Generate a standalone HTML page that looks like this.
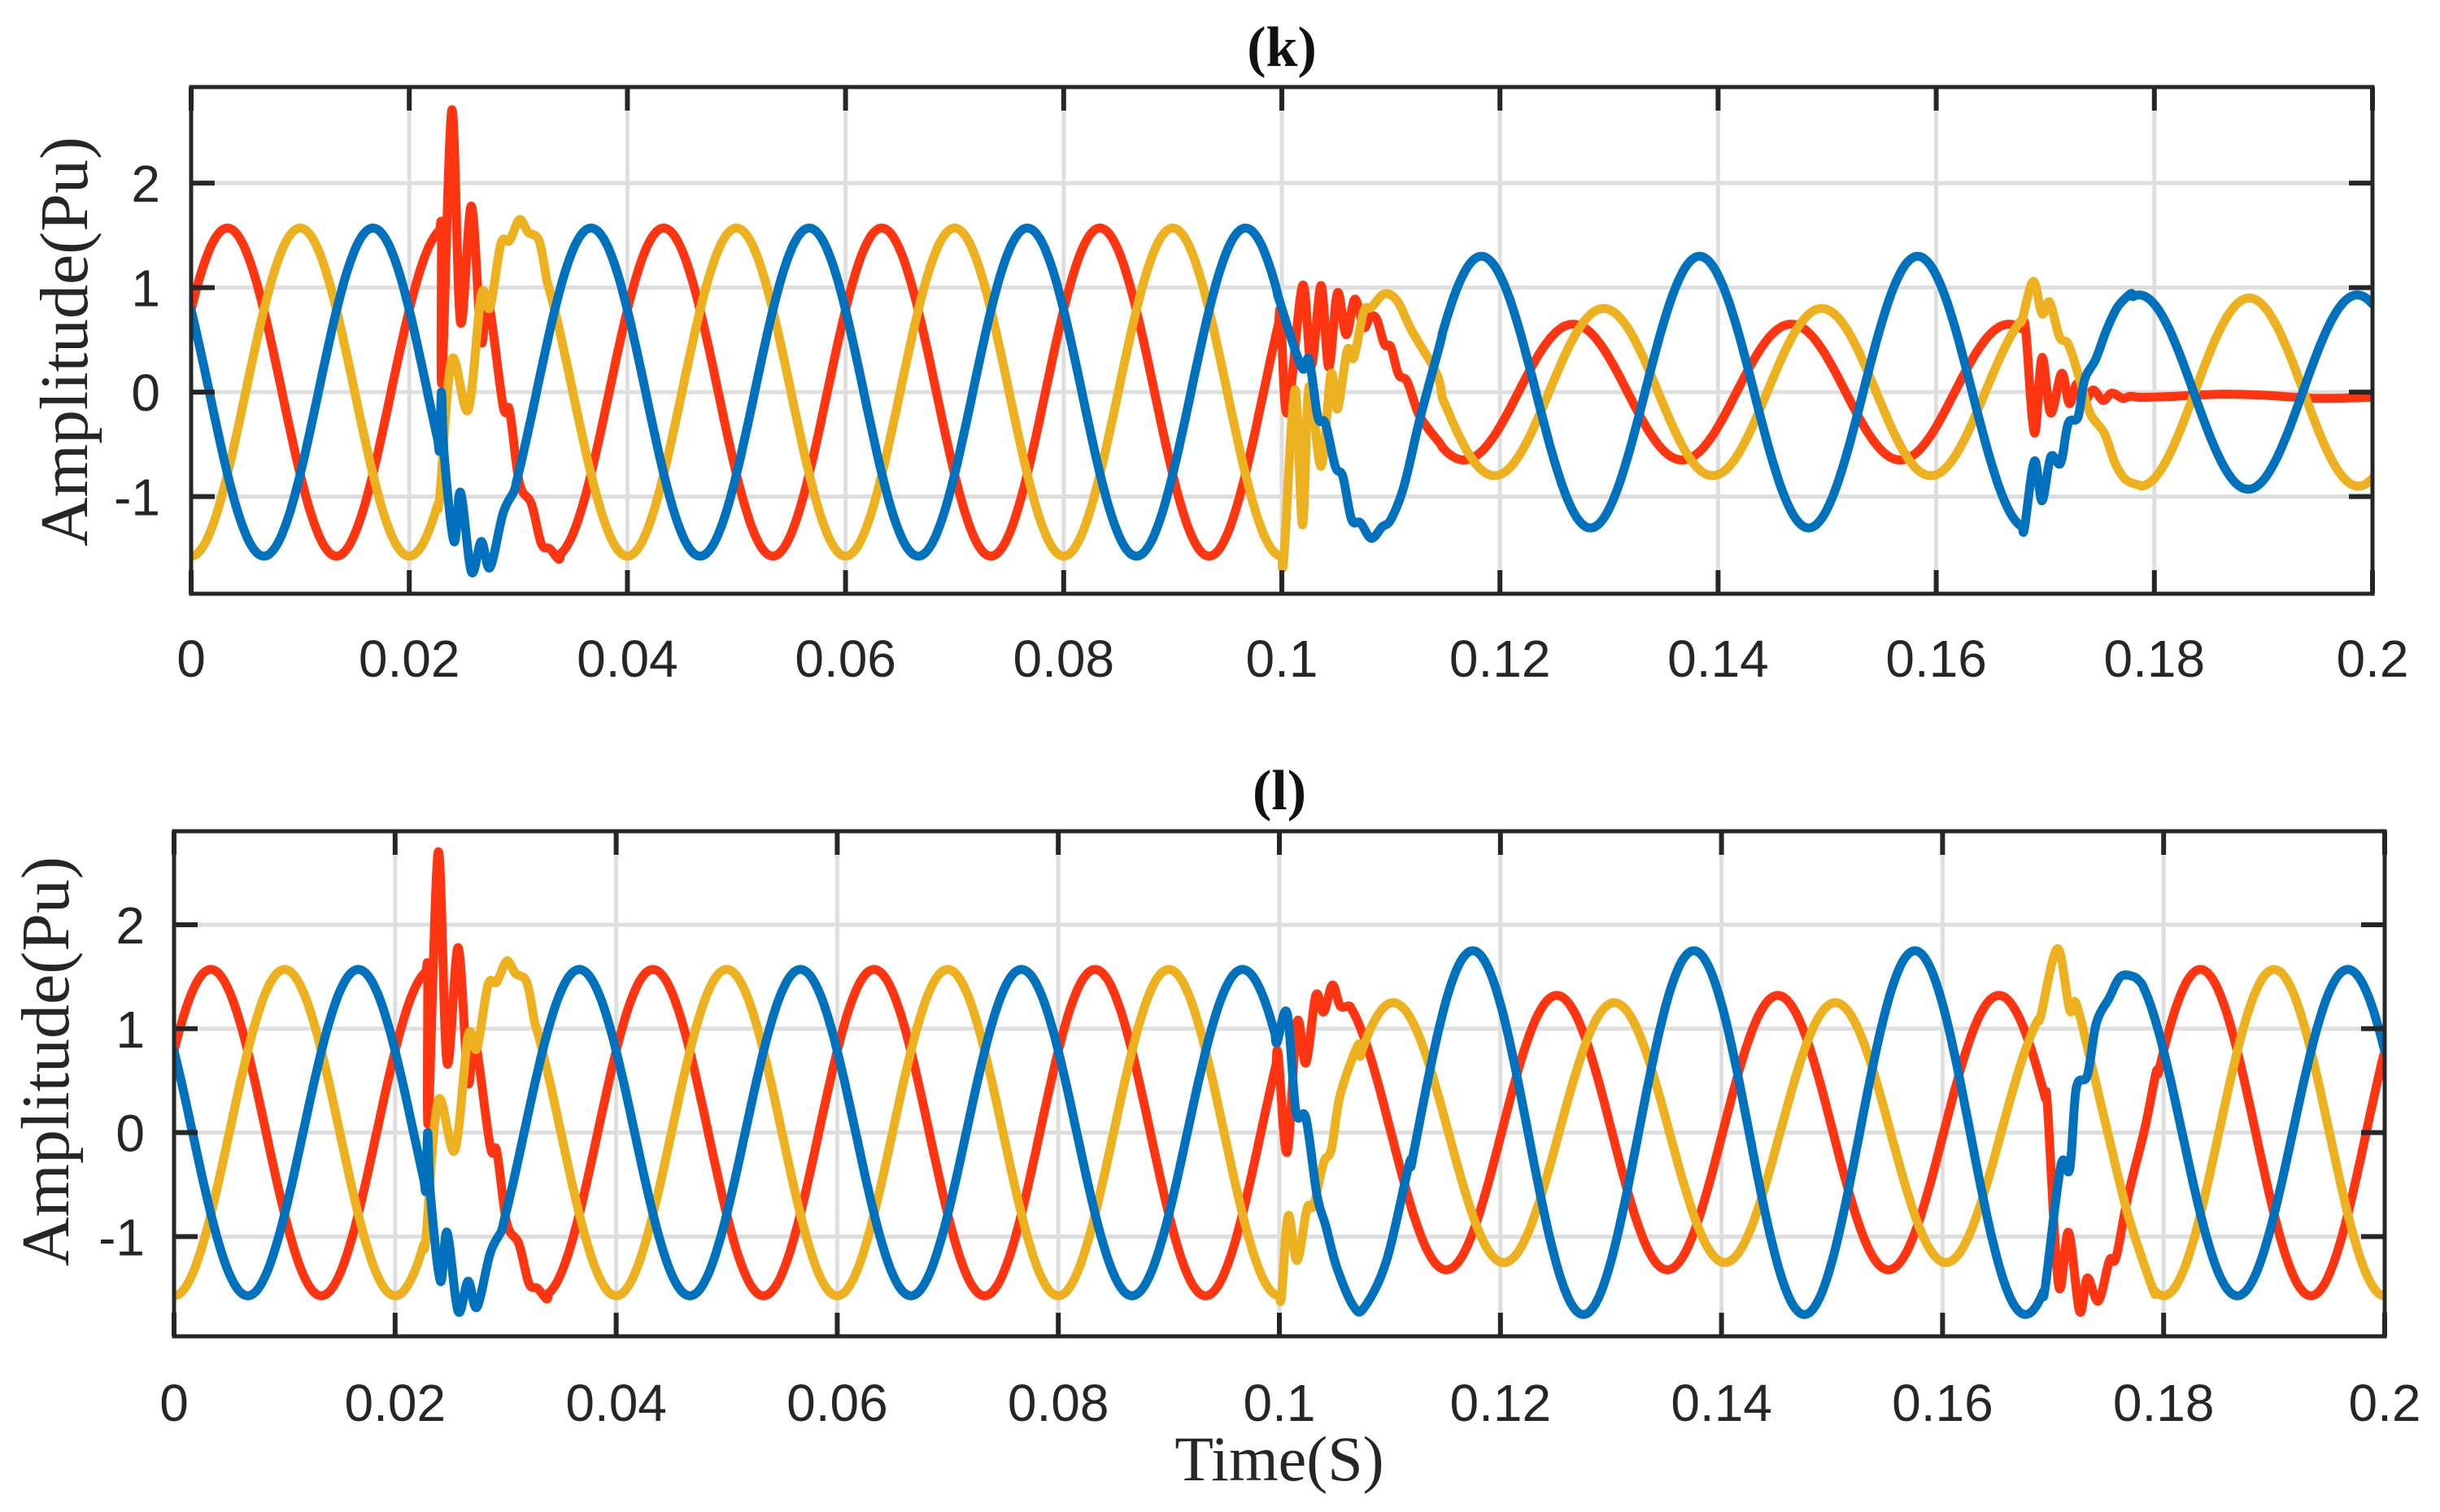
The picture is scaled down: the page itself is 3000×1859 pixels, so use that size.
<!DOCTYPE html>
<html><head><meta charset="utf-8"><style>html,body{margin:0;padding:0;background:#fff}svg{display:block}</style></head>
<body>
<svg id="chart" width="3000" height="1859" viewBox="0 0 3000 1859" xmlns="http://www.w3.org/2000/svg">
<rect width="3000" height="1859" fill="#fff"/>
<g id="pk"></g>
<g id="pl"></g>
<text x="1576" y="81" text-anchor="middle" font-family="Liberation Serif, serif" font-weight="bold" font-size="70" fill="#111">(k)</text>
<text x="1573" y="995" text-anchor="middle" font-family="Liberation Serif, serif" font-weight="bold" font-size="70" fill="#111">(l)</text>
<text transform="translate(107,420) rotate(-90)" text-anchor="middle" font-family="Liberation Serif, serif" font-size="84" fill="#262626">Amplitude(Pu)</text>
<text transform="translate(84,1305) rotate(-90)" text-anchor="middle" font-family="Liberation Serif, serif" font-size="84" fill="#262626">Amplitude(Pu)</text>
<text x="1573" y="1820" text-anchor="middle" font-family="Liberation Serif, serif" font-size="78" fill="#262626">Time(S)</text>
</svg>
<script>
// ticks
const xTicks = [0, 0.02, 0.04, 0.06, 0.08, 0.1, 0.12, 0.14, 0.16, 0.18, 0.2];
const xTickLabels = ["0","0.02","0.04","0.06","0.08","0.1","0.12","0.14","0.16","0.18","0.2"];
const yTicks = [-1, 0, 1, 2];
const yTickLabels = ["-1","0","1","2"];
// steady segments per phase: [startMs, endMs, amplitude, peakTimeMs]
const kRedSeg = [[0,22.9,1.57,3.33],[33.9,99.9,1.57,3.33],[114.7,168.0,0.65,6.7]];
const kYelSeg = [[0,22.9,1.57,10],[32.6,100.3,1.57,10],[114.7,168.0,0.8,129.5],[178.8,200,0.9,188.7]];
const kBluSeg = [[0,22.9,1.57,16.67],[29.6,99.9,1.57,16.67],[114.7,168.2,1.3,118.3],[178.0,200,0.93,178.6]];
// transient points (ms, pu)
const kRedTrT = [22.95,23.0,23.9,24.7,25.7,26.6,27.2,28.6,29.2,30.1,31.2,32.1,32.9,33.7, 100.5,101.9,102.7,103.6,104.3,105.1,105.9,106.7,107.5,108.1,108.7,109.4,110.0,110.7,111.5,112.5,113.5,114.5, 168.2,169.0,169.7,170.5,171.5,172.2,172.9,173.6,174.4,175.3,176.1,177.1,177.8,178.8,182,186,190,195,200];
const kRedTrV = [1.52,0.1,2.7,0.67,1.78,0.49,0.9,-0.13,-0.18,-0.87,-1.07,-1.45,-1.5,-1.6, -0.2,1.02,0.25,1.02,0.24,0.95,0.55,0.89,0.62,0.72,0.70,0.46,0.43,0.17,0.1,-0.2,-0.36,-0.49, 0.6,-0.39,0.33,-0.2,0.18,-0.11,0.08,-0.08,0.02,-0.08,-0.01,-0.06,-0.04,-0.05,-0.04,-0.02,-0.03,-0.06,-0.05];
const kYelTrT = [23.9,25.4,26.6,27.4,28.4,29.2,30.1,30.9,31.9, 101.2,101.9,102.5,103.6,104.5,105.1,106.0,106.6,107.5,108.2,109.4,110.6,111.9,113.9,114.5, 168.9,169.7,170.4,171.3,172.1,173.0,174.1,175.4,176.4,177.4,178.6];
const kYelTrV = [0.31,-0.17,0.93,0.81,1.42,1.45,1.65,1.53,1.45, 0.02,-1.27,0.05,-0.71,0.17,-0.16,0.4,0.33,0.77,0.81,0.94,0.87,0.59,0.24,0.08, 1.06,0.75,0.86,0.53,0.46,0.18,-0.2,-0.39,-0.68,-0.84,-0.89];
const kBluTrT = [22.95,23.2,24.1,24.7,25.7,26.6,27.4,28.6, 101.8,102.5,103.3,104.0,104.9,105.6,106.4,107.2,108.2,109.2,110.0,111.2,112.7,114.5, 169.0,169.7,170.5,171.4,172.1,173.0,173.6,174.6,175.6,176.6,177.8];
const kBluTrV = [0.0,-0.6,-1.43,-0.96,-1.72,-1.43,-1.68,-1.16, 0.24,0.31,-0.24,-0.3,-0.71,-0.81,-1.22,-1.25,-1.4,-1.29,-1.22,-0.9,-0.24,0.46, -0.66,-1.04,-0.62,-0.68,-0.3,-0.24,0.12,0.31,0.59,0.81,0.94];

const lRedSeg = [[0,22.9,1.57,3.33],[33.9,99.9,1.57,3.33],[106.5,169.5,1.32,105.1],[179.5,200,1.57,183.33]];
const lYelSeg = [[0,22.9,1.57,10],[32.6,100.3,1.57,10],[107.3,169.0,1.25,110.3],[179.2,200,1.57,190]];
const lBluSeg = [[0,22.9,1.57,16.67],[29.6,99.9,1.57,16.67],[111.9,169.4,1.75,117.5],[178.0,200,1.57,176.67]];
const lRedTrT = [22.95,23.0,23.9,24.7,25.7,26.6,27.2,28.6,29.2,30.1,31.2,32.1,32.9,33.7, 100.7,101.6,102.4,103.3,104.0,104.8,105.5,106.3, 170.5,171.4,172.4,173.1,174.1,175.1,175.7,176.8,178.3,179.3];
const lRedTrV = [1.52,0.1,2.7,0.67,1.78,0.49,0.9,-0.13,-0.18,-0.87,-1.07,-1.45,-1.5,-1.6, -0.19,1.06,0.67,1.32,1.16,1.42,1.22,1.22, -1.47,-0.96,-1.72,-1.4,-1.62,-1.23,-1.2,-0.6,0.04,0.57];
const lYelTrT = [23.9,25.4,26.6,27.4,28.4,29.2,30.1,30.9,31.9, 100.8,101.6,102.5,103.1,104.0,104.7,105.5,107.1, 170.4,171.5,172.1,173.6,175.1,176.8,179.0];
const lYelTrV = [0.31,-0.17,0.93,0.81,1.42,1.45,1.65,1.53,1.45, -0.8,-1.23,-0.73,-0.7,-0.29,-0.16,0.36,0.84, 1.77,1.18,1.24,0.6,-0.07,-0.8,-1.5];
const lBluTrT = [22.95,23.2,24.1,24.7,25.7,26.6,27.4,28.6, 100.7,101.5,102.4,103.4,104.2,105.2,106.7,107.7,109.7,111.7, 170.7,171.5,172.1,173.1,173.9,175.1,176.1,177.3];
const lBluTrV = [0.0,-0.6,-1.43,-0.96,-1.72,-1.43,-1.68,-1.16, 1.15,0.2,0.14,-0.6,-0.9,-1.3,-1.67,-1.68,-1.23,-0.32, -0.32,-0.35,0.43,0.55,1.05,1.3,1.5,1.5];

const NS = "http://www.w3.org/2000/svg";
function mk(tag, attrs, parent){const e=document.createElementNS(NS,tag);for(const k in attrs)e.setAttribute(k,attrs[k]);parent.appendChild(e);return e;}

function smoothPath(P){
  let d='M'+P[0][0].toFixed(1)+' '+P[0][1].toFixed(1);
  for(let i=0;i<P.length-1;i++){
    const p0=P[Math.max(0,i-1)],p1=P[i],p2=P[i+1],p3=P[Math.min(P.length-1,i+2)];
    const c1x=p1[0]+(p2[0]-p0[0])/6,c1y=p1[1]+(p2[1]-p0[1])/6;
    const c2x=p2[0]-(p3[0]-p1[0])/6,c2y=p2[1]-(p3[1]-p1[1])/6;
    d+='C'+c1x.toFixed(1)+' '+c1y.toFixed(1)+' '+c2x.toFixed(1)+' '+c2y.toFixed(1)+' '+p2[0].toFixed(1)+' '+p2[1].toFixed(1);
  }
  return d;
}

function drawPanel(g, P, series, prefix){
  const xs = t => P.x0 + (t/0.2)*(P.x1-P.x0);
  const ys = v => P.yb + (v-P.ymin)/(P.ymax-P.ymin)*(P.yt-P.yb);
  xTicks.forEach(t=>{const l=mk('line',{x1:xs(t),x2:xs(t),y1:P.yt,y2:P.yb,stroke:'#dedede','stroke-width':5},g);
    
    });
  yTicks.forEach(v=>{const l=mk('line',{x1:P.x0,x2:P.x1,y1:ys(v),y2:ys(v),stroke:'#dedede','stroke-width':5},g);
    
    });
  const clip = mk('clipPath',{id:prefix+'clip'},g);
  mk('rect',{x:P.x0,y:P.yt,width:P.x1-P.x0,height:P.yb-P.yt},clip);
  series.forEach(s=>{
    let pts=[];
    s.seg.forEach(sg=>{for(let t=sg[0];t<=sg[1]+1e-9;t+=0.2){pts.push([t,sg[2]*Math.cos(2*Math.PI*50*(t-sg[3])/1000)]);}});
    s.tt.forEach((t,i)=>pts.push([t,s.tv[i]]));
    pts.sort((a,b)=>a[0]-b[0]);
    const px=pts.map(p=>[xs(p[0]/1000),ys(p[1])]);
    const path=mk('path',{d:smoothPath(px),fill:'none',stroke:s.color,'stroke-width':11,'stroke-linejoin':'round','stroke-linecap':'round','clip-path':'url(#'+prefix+'clip)'},g);
    
    
  });
  const box=mk('rect',{x:P.x0,y:P.yt,width:P.x1-P.x0,height:P.yb-P.yt,fill:'none',stroke:'#262626','stroke-width':5},g);
  
  
  xTicks.forEach((t,i)=>{
    mk('line',{x1:xs(t),x2:xs(t),y1:P.yb,y2:P.yb-29,stroke:'#262626','stroke-width':6},g);
    mk('line',{x1:xs(t),x2:xs(t),y1:P.yt,y2:P.yt+29,stroke:'#262626','stroke-width':6},g);
    const tx=mk('text',{x:xs(t),y:P.xlabY,'text-anchor':'middle','font-family':'Liberation Sans, sans-serif','font-size':64,fill:'#262626'},g);
    tx.textContent=xTickLabels[i];
    
    
  });
  yTicks.forEach((v,i)=>{
    mk('line',{x1:P.x0,x2:P.x0+29,y1:ys(v),y2:ys(v),stroke:'#262626','stroke-width':6},g);
    mk('line',{x1:P.x1,x2:P.x1-29,y1:ys(v),y2:ys(v),stroke:'#262626','stroke-width':6},g);
    const tx=mk('text',{x:P.ylabX,y:ys(v)+23,'text-anchor':'end','font-family':'Liberation Sans, sans-serif','font-size':64,fill:'#262626'},g);
    tx.textContent=yTickLabels[i];
    
    
  });
}
const RED='#ff3410', YEL='#edb120', BLU='#0072bd';
drawPanel(document.getElementById('pk'),
  {x0:235,x1:2917,yt:107,yb:730,ymin:-1.93,ymax:2.92,xlabY:832,ylabX:197},
  [{name:'phase-a',color:RED,seg:kRedSeg,tt:kRedTrT,tv:kRedTrV},
   {name:'phase-b',color:YEL,seg:kYelSeg,tt:kYelTrT,tv:kYelTrV},
   {name:'phase-c',color:BLU,seg:kBluSeg,tt:kBluTrT,tv:kBluTrV}],'panel-k');
drawPanel(document.getElementById('pl'),
  {x0:214,x1:2932,yt:1022,yb:1643,ymin:-1.96,ymax:2.9,xlabY:1747,ylabX:178},
  [{name:'phase-a',color:RED,seg:lRedSeg,tt:lRedTrT,tv:lRedTrV},
   {name:'phase-b',color:YEL,seg:lYelSeg,tt:lYelTrT,tv:lYelTrV},
   {name:'phase-c',color:BLU,seg:lBluSeg,tt:lBluTrT,tv:lBluTrV}],'panel-l');
</script>
</body></html>
